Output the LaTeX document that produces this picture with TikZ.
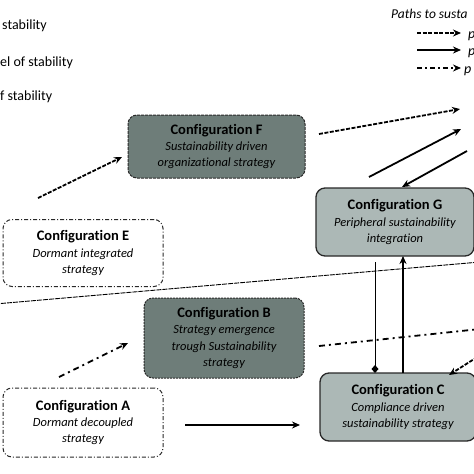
\documentclass[tikz,border=0pt]{standalone}
\usepackage{fontspec}
\setmainfont{Carlito}[Ligatures={NoCommon}]
\usetikzlibrary{arrows.meta}
\definecolor{darkfill}{RGB}{110,125,121}
\definecolor{lightfill}{RGB}{172,184,182}
\definecolor{edge}{RGB}{40,40,40}
\tikzset{
  cfg/.style={rounded corners=9pt, align=center, inner sep=0pt, line width=1pt, draw=edge,
    font=\fontsize{12.5}{16.3}\selectfont},
  darkbox/.style={cfg, fill=darkfill, dash pattern=on 3pt off 1pt},
  lightbox/.style={cfg, fill=lightfill, line width=1.3pt},
  whitebox/.style={cfg, fill=white, dash pattern=on 4pt off 2pt on 1pt off 2pt},
  head/.style={-{Stealth[length=8pt,width=7pt]}},
  thickdash/.style={line width=1.8pt, dash pattern=on 4pt off 1.5pt},
  thickdashdot/.style={line width=1.8pt, dash pattern=on 6pt off 4pt on 2pt off 4pt},
  thickline/.style={line width=1.8pt},
  thinline/.style={line width=1pt},
  thindash/.style={line width=0.9pt, dash pattern=on 5pt off 1pt},
  legtxt/.style={anchor=west, inner sep=0pt, font=\fontsize{14}{16}\selectfont},
}
\newcommand{\ttl}[1]{{\fontsize{14.5}{16.3}\selectfont\bfseries #1}}
\newcommand{\sub}[1]{{\itshape #1}}
\begin{document}
\begin{tikzpicture}[x=1pt,y=-1pt]
\useasboundingbox (0,0) rectangle (474,474);
\clip (0,0) rectangle (474,474);

% left legend fragments
\node[legtxt] (l1) at (2,26) {stability};
\node[legtxt] (l2) at (0,63) {el of stability};
\node[legtxt] (l3) at (0,97) {f stability};

% right legend
\node[legtxt, font=\fontsize{13.5}{16}\selectfont\itshape] (lt) at (391,14) {Paths to susta};
\coordinate (la1) at (417,33); \coordinate (lb1) at (461,33);
\coordinate (la2) at (417,50); \coordinate (lb2) at (461,50);
\coordinate (la3) at (417,68); \coordinate (lb3) at (461,68);
\draw[thickdash, line width=1.5pt, head] (la1) -- (lb1);
\draw[thickline, line width=1.5pt, head] (la2) -- (lb2);
\draw[thickdashdot, line width=1.5pt, dash pattern=on 5pt off 3pt on 2pt off 3pt, head] (la3) -- (lb3);
\node[legtxt, font=\fontsize{14}{16}\selectfont\itshape] (p1) at (468,36) {p};
\node[legtxt, font=\fontsize{14}{16}\selectfont\itshape] (p2) at (468,53) {p};
\node[legtxt, font=\fontsize{14}{16}\selectfont\itshape] (p3) at (464,71) {p};

% boxes
\node[darkbox, minimum width=177pt, minimum height=63pt] (F) at (216.5,146.5)
  {\ttl{Configuration F}\\ \sub{Sustainability driven}\\ \sub{organizational strategy}};
\node[whitebox, minimum width=160pt, minimum height=67pt] (E) at (83,253)
  {\ttl{Configuration E}\\ \sub{Dormant integrated}\\ \sub{strategy}};
\node[lightbox, minimum width=158pt, minimum height=68pt] (G) at (395,222)
  {\ttl{Configuration G}\\ \sub{Peripheral sustainability}\\ \sub{integration}};
\node[darkbox, dash pattern=on 2pt off 1pt, minimum width=160pt, minimum height=80pt] (B) at (224,338)
  {\ttl{Configuration B}\\ \sub{Strategy emergence}\\ \sub{trough Sustainability}\\ \sub{strategy}};
\node[whitebox, minimum width=160pt, minimum height=69pt] (A) at (83,422.5)
  {\ttl{Configuration A}\\ \sub{Dormant decoupled}\\ \sub{strategy}};
\node[lightbox, minimum width=156pt, minimum height=68pt] (C) at (398,407)
  {\ttl{Configuration C}\\ \sub{Compliance driven}\\ \sub{sustainability strategy}};

% connector end points
\coordinate (e1) at (38,198);   \coordinate (f1) at (122,157);
\coordinate (f2) at (319,134);  \coordinate (o1) at (460,109);
\coordinate (g1) at (369,177);  \coordinate (o2) at (461,129);
\coordinate (o3) at (467,151);  \coordinate (g2) at (402,187);
\coordinate (d1) at (-5,304);   \coordinate (d2) at (480,262);
\coordinate (g3) at (375,262);  \coordinate (c1) at (375,373);
\coordinate (c2) at (403,373);  \coordinate (g4) at (403,256);
\coordinate (b1) at (319,346);  \coordinate (o4) at (480,329);
\coordinate (a1) at (59,377);   \coordinate (b2) at (128,343);
\coordinate (o5) at (482,354);  \coordinate (c3) at (449,375);
\coordinate (a2) at (185,425);  \coordinate (c4) at (300,425);

% connectors
\draw[thickdash, head] (e1) -- (f1);
\draw[thickdash, head] (f2) -- (o1);
\draw[thickline, head] (g1) -- (o2);
\draw[thickline, head] (o3) -- (g2);
\draw[thindash] (d1) -- (d2);
\draw[thinline, -{Diamond[length=8pt,width=7pt]}] (g3) -- (c1);
\draw[thickline, head] (c2) -- (g4);
\draw[thickdashdot] (b1) -- (o4);
\draw[thickdashdot, head] (a1) -- (b2);
\draw[thickdash, head] (o5) -- (c3);
\draw[thickline, head] (a2) -- (c4);
\end{tikzpicture}
\end{document}
